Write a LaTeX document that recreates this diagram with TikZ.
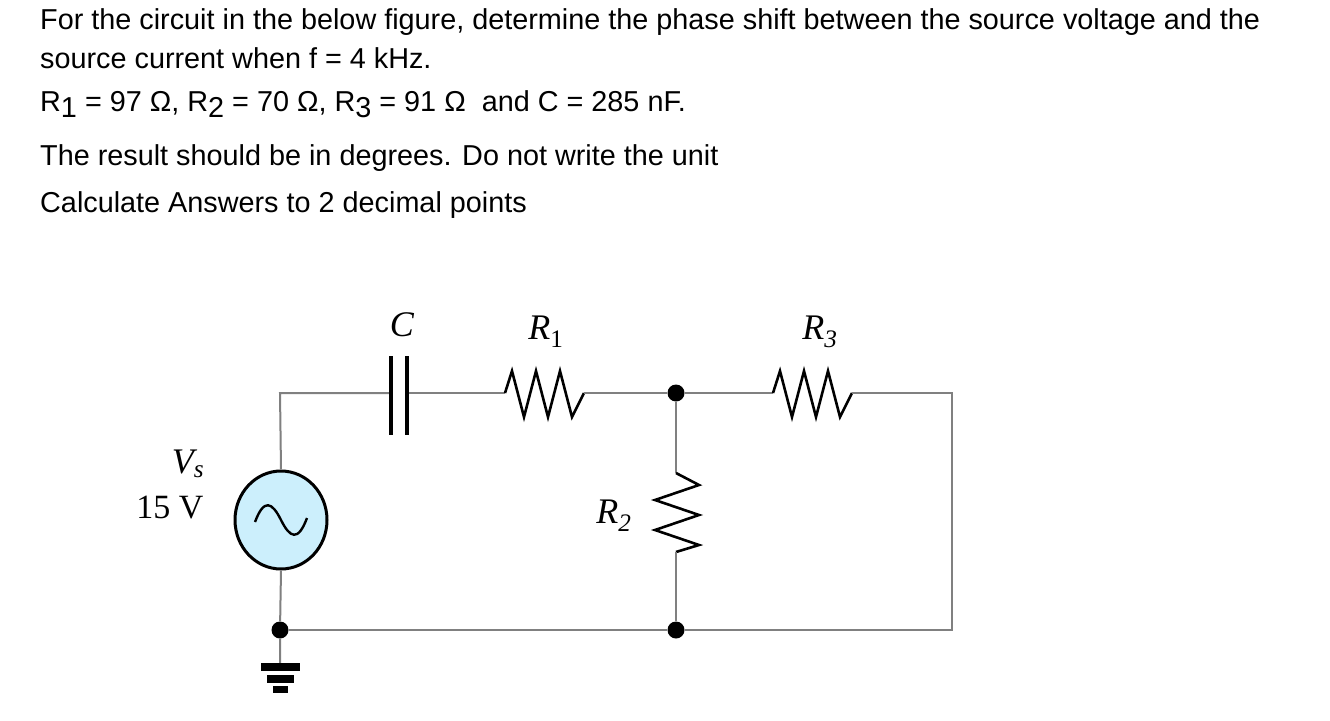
\documentclass[tikz,border=0pt]{standalone}
\usepackage{fontspec}
\usetikzlibrary{shapes.geometric}
\setmainfont{Liberation Sans}
\newfontfamily\serifm{Liberation Serif}
\begin{document}
\begin{tikzpicture}[x=1pt,y=-1pt,
  wire/.style={draw=black!50,line width=2pt},
  comp/.style={draw=black,line width=2.6pt,line join=miter},
  dot/.style={circle,fill=black,inner sep=0pt,minimum size=17pt},
  txt/.style={anchor=west,inner sep=0pt,font=\fontsize{28.8}{34}\selectfont},
  lab/.style={inner sep=0pt,font=\serifm\fontsize{36}{40}\selectfont\itshape}]
\useasboundingbox[fill=white] (0,0) rectangle (1330,720);
\node[txt] (t1) at (40,22) {For the circuit in the below figure, determine the phase shift between the source voltage and the};
\node[txt] (t2) at (40,58) {source current when f = 4 kHz.};
\node[txt] (t3) at (40,104) {R\raisebox{-6pt}{1} = 97 Ω, R\raisebox{-6pt}{2} = 70 Ω, R\raisebox{-6pt}{3} = 91 Ω\ \ and C = 285 nF.};
\node[txt] (t4) at (40,158) {The result should be in degrees. Do not write the unit};
\node[txt] (t5) at (40,205) {Calculate Answers to 2 decimal points};
% coordinates
\coordinate (tl) at (280,393);
\coordinate (tr) at (952,393);
\coordinate (br) at (952,630);
\node[dot] (gnd) at (280,630) {};
\node[dot] (nt) at (676,393) {};
\node[dot] (nb) at (676,630) {};
\node[ellipse,draw=black,line width=3pt,fill=cyan!20,minimum width=92pt,minimum height=98pt,inner sep=0pt] (src) at (281,520) {};
\draw[line width=2.4pt] (255,522) .. controls (264,498) and (272,502) .. (281,520) .. controls (290,538) and (298,542) .. (307,518);
% wires
\draw[wire] (src.north) -- (tl) -- (391,393);
\draw[wire] (407,393) -- (505,393);
\draw[line width=4pt] (391,356) -- (391,435) (407,356) -- (407,435);
\draw[comp] (505,393) -- (512,371) -- (524,417) -- (536,371) -- (548,417) -- (560,371) -- (572,417) -- (584,393);
\draw[wire] (584,393) -- (nt) -- (773,393);
\draw[comp] (773,393) -- (780,371) -- (792,417) -- (804,371) -- (816,417) -- (828,371) -- (840,417) -- (852,393);
\draw[wire] (852,393) -- (tr) -- (br) -- (nb) -- (gnd);
\draw[wire] (nt) -- (676,473);
\draw[comp] (676,473) -- (699,485) -- (655,500) -- (699,515) -- (655,530) -- (699,545) -- (676,552);
\draw[wire] (676,552) -- (nb);
\draw[wire] (src.south) -- (gnd) -- (280,663);
\fill (261,663) rectangle (300,671);
\fill (267,675) rectangle (294,683);
\fill (273,686) rectangle (288,693);
% labels
\node[lab] (lc) at (402,325) {C};
\node[lab] (l1) at (546,332) {R\textsubscript{\upshape 1}};
\node[lab] (l3) at (820,332) {R\textsubscript{3}};
\node[lab] (l2) at (614,516) {R\textsubscript{2}};
\node[lab] (lv) at (188,464) {V\textsubscript{s}};
\node[inner sep=0pt,font=\serifm\fontsize{34}{38}\selectfont] (lv2) at (170,508) {15 V};
\end{tikzpicture}
\end{document}
